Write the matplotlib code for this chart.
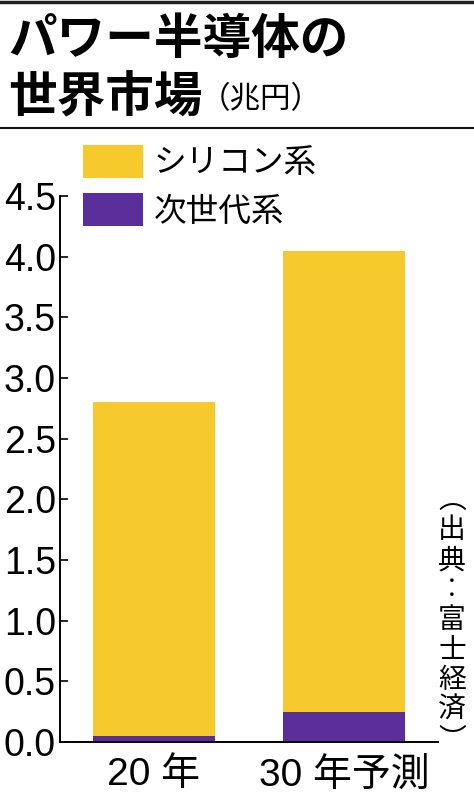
import matplotlib
matplotlib.use('Agg')
import matplotlib.pyplot as plt
from matplotlib.lines import Line2D

plt.rcParams['font.family'] = ['Liberation Sans', 'Noto Sans CJK JP']

# data (兆円)
periods = ['20 年', '30 年予測']
silicon = [2.75, 3.80]
nextgen = [0.05, 0.25]
series_names = ['シリコン系', '次世代系']
yticks = [0.0, 0.5, 1.0, 1.5, 2.0, 2.5, 3.0, 3.5, 4.0, 4.5]

yellow = '#F6C92C'
purple = '#5B2F9B'

W, H = 474, 793
fig = plt.figure(figsize=(W / 100, H / 100), dpi=100)

ax = fig.add_axes([60 / W, 1 - 742 / H, 378 / W, (742 - 196) / H])
x = list(range(len(periods)))
b1 = ax.bar(x, nextgen, width=0.64, color=purple, label=series_names[1])
b2 = ax.bar(x, silicon, width=0.64, bottom=nextgen, color=yellow, label=series_names[0])

ax.set_xlim(-0.493, 1.491)
ax.set_ylim(0, 4.5)
ax.set_yticks(yticks)
ax.set_yticklabels([f'{v:.1f}' for v in yticks], fontsize=27)
ax.set_xticks(x)
ax.set_xticklabels(periods, fontsize=28)
ax.tick_params(axis='y', direction='in', length=6, width=1.2, pad=3)
ax.tick_params(axis='x', length=0, pad=11)
for s in ['top', 'right']:
    ax.spines[s].set_visible(False)
for s in ['left', 'bottom']:
    ax.spines[s].set_linewidth(1.4)

leg = ax.legend([b2, b1], [series_names[0], series_names[1]],
                loc='upper left', bbox_to_anchor=(83 / W, 1 - 145 / H),
                bbox_transform=fig.transFigure, frameon=False,
                prop={'family': 'Noto Sans CJK JP', 'size': 23.5},
                handlelength=1.85, handleheight=1.17, handletextpad=0.31,
                labelspacing=0.42, borderpad=0, borderaxespad=0)

# title block
fig.add_artist(Line2D([0, 1], [1 - 1.5 / H, 1 - 1.5 / H], color='#222222', lw=2.5,
                      transform=fig.transFigure))
fig.add_artist(Line2D([0, 1], [1 - 127.5 / H, 1 - 127.5 / H], color='#111111', lw=1.5,
                      transform=fig.transFigure))
fig.text(8 / W, 1 - 39 / H, 'パワー半導体の', fontsize=35, fontweight='bold',
         family='Noto Sans CJK JP', va='center', ha='left')
fig.text(8 / W, 1 - 98 / H, '世界市場', fontsize=35, fontweight='bold',
         family='Noto Sans CJK JP', va='center', ha='left')
fig.text(200 / W, 1 - 100 / H, '（兆円）', fontsize=22,
         family='Noto Sans CJK JP', va='center', ha='left')

# source (vertical)
fig.text(452 / W, 1 - 620 / H, '\n'.join('︵出典︰富士経済︶'), fontsize=20,
         family='Noto Sans CJK JP', va='center', ha='center', linespacing=1.0)

fig.savefig('out.png', dpi=100)
